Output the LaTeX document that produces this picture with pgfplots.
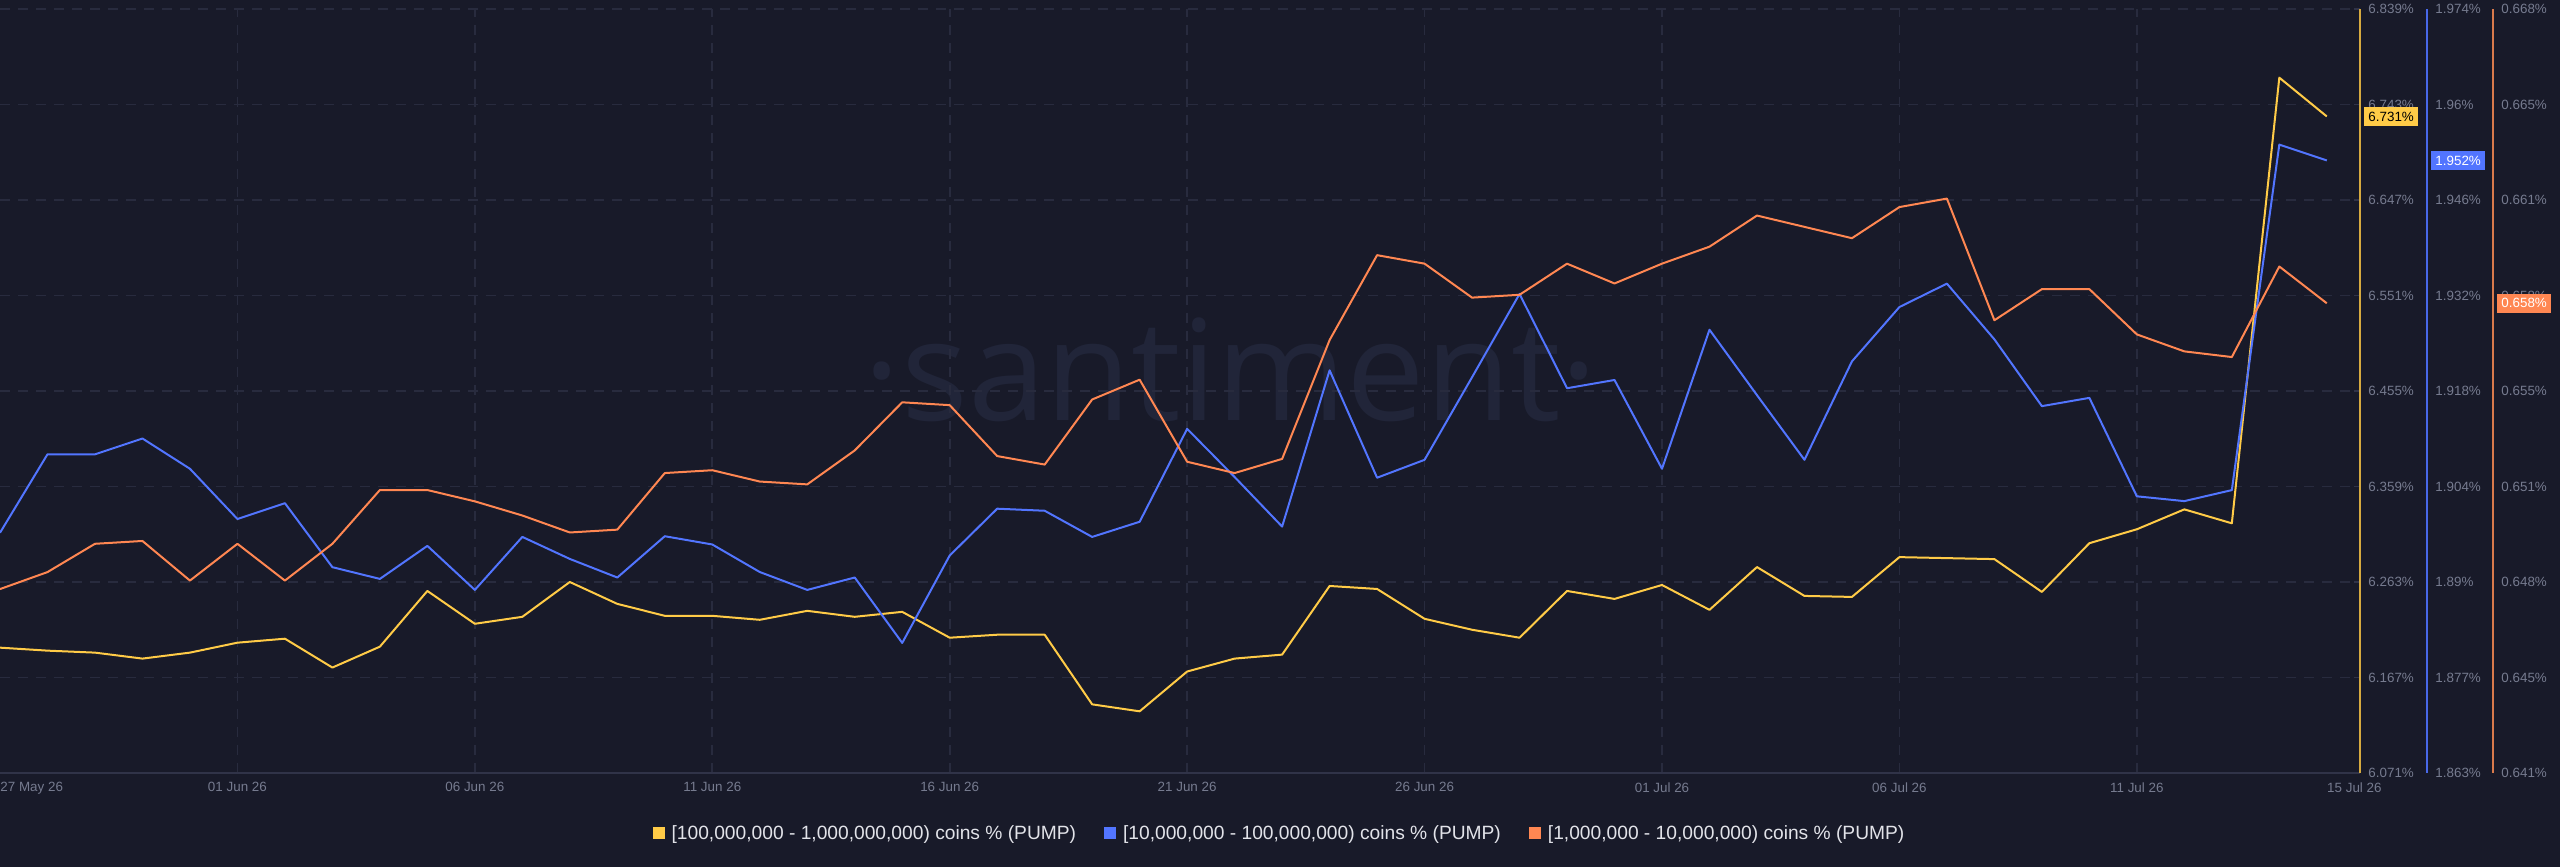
\documentclass[border=0pt]{standalone}
\usepackage{pgfplots}
\usepackage{pgfplotstable}
\pgfplotsset{compat=1.18}
\usepackage{fontspec}
\setmainfont{Liberation Sans}
\newfontfamily\wmfont{Open Sans}

\definecolor{bg}{RGB}{24,26,41}
\definecolor{gridc}{RGB}{40,43,62}
\definecolor{axisc}{RGB}{48,51,72}
\definecolor{tickc}{RGB}{118,123,143}
\definecolor{legc}{RGB}{226,227,233}
\definecolor{cyel}{RGB}{255,203,71}
\definecolor{cblu}{RGB}{82,117,255}
\definecolor{cora}{RGB}{255,135,82}
\definecolor{ayel}{RGB}{214,170,64}
\definecolor{ablu}{RGB}{72,104,232}
\definecolor{aora}{RGB}{216,122,76}
\definecolor{wm}{RGB}{33,37,57}

% daily holder share per balance band, day 0 = 27 May 26
\pgfplotstableread{
day yel blu ora
0 6.197 1.8979 0.6475
1 6.194 1.9093 0.6481
2 6.192 1.9093 0.6491
3 6.186 1.9116 0.6492
4 6.192 1.9072 0.6478
5 6.202 1.8999 0.6491
6 6.206 1.9022 0.6478
7 6.177 1.8929 0.6491
8 6.198 1.8912 0.6510
9 6.254 1.8960 0.6510
10 6.221 1.8896 0.6506
11 6.228 1.8973 0.6501
12 6.263 1.8941 0.6495
13 6.241 1.8914 0.6496
14 6.229 1.8974 0.6516
15 6.229 1.8962 0.6517
16 6.225 1.8922 0.6513
17 6.234 1.8896 0.6512
18 6.228 1.8914 0.6524
19 6.233 1.8819 0.6541
20 6.207 1.8946 0.6540
21 6.210 1.9014 0.6522
22 6.210 1.9011 0.6519
23 6.140 1.8973 0.6542
24 6.133 1.8995 0.6549
25 6.173 1.9130 0.6520
26 6.186 1.9060 0.6516
27 6.190 1.8988 0.6521
28 6.259 1.9215 0.6563
29 6.256 1.9059 0.6593
30 6.226 1.9085 0.6590
31 6.215 1.9205 0.6578
32 6.207 1.9326 0.6579
33 6.254 1.9189 0.6590
34 6.246 1.9201 0.6583
35 6.260 1.9072 0.6590
36 6.235 1.9274 0.6596
37 6.278 1.9179 0.6607
38 6.249 1.9085 0.6603
39 6.248 1.9228 0.6599
40 6.288 1.9307 0.6610
41 6.287 1.9341 0.6613
42 6.286 1.9260 0.6570
43 6.253 1.9163 0.6581
44 6.302 1.9175 0.6581
45 6.316 1.9032 0.6565
46 6.336 1.9025 0.6559
47 6.322 1.9041 0.6557
48 6.770 1.9543 0.6589
49 6.731 1.9520 0.6576
}\bands

\def\xmx{49.70}
\newcommand{\tickfont}{\fontsize{6.7}{8}\selectfont}

\pgfplotsset{
  base/.style={
    scale only axis, width=1180pt, height=382pt,
    at={(0pt,0pt)}, anchor=south west,
    xmin=0, xmax=\xmx, clip=false,
    axis background/.style={fill=none},
    yticklabel style={font=\tickfont, text=tickc, anchor=west, inner sep=0pt},
  },
  series/.style={line width=1pt, line join=round},
}

\begin{document}
\begin{tikzpicture}[x=1pt,y=1pt]
\fill[bg] (0,-47) rectangle (1280,386.5);
\node[font=\wmfont\fontsize{70}{70}\selectfont, text=wm, anchor=base] at (615.5,176) {·santiment·};

% 100M - 1B band, left-most right axis
\begin{axis}[base,
  ymin=6.071, ymax=6.839,
  axis x line*=bottom, axis y line*=right,
  x axis line style={draw=axisc, line width=1pt, -},
  y axis line style={draw=ayel, line width=1pt, -},
  xtick={5,10,...,45},
  xticklabels={01 Jun 26,06 Jun 26,11 Jun 26,16 Jun 26,21 Jun 26,26 Jun 26,01 Jul 26,06 Jul 26,11 Jul 26},
  extra x ticks={0,49},
  extra x tick labels={27 May 26,15 Jul 26},
  extra x tick style={grid=none, major tick length=0pt, xticklabel style={anchor=north west}},
  xtick style={draw=none},
  xticklabel style={font=\tickfont, text=tickc, inner sep=0pt, anchor=north, yshift=-4.5pt},
  ytick={6.071,6.167,6.263,6.359,6.455,6.551,6.647,6.743,6.839},
  yticklabels={6.071\%,6.167\%,6.263\%,6.359\%,6.455\%,6.551\%,6.647\%,6.743\%,6.839\%},
  yticklabel style={xshift=4pt},
  tick align=inside, major tick length=3pt,
  ytick style={draw=axisc, line width=0.8pt},
  xmajorgrids, ymajorgrids,
  major grid style={draw=gridc, line width=0.8pt, dash pattern=on 5pt off 4pt},
]
\addplot[series, cyel] table[x=day, y=yel] {\bands};
\node[fill=cyel, text=black, font=\tickfont, anchor=west, inner xsep=2pt, inner ysep=2.5pt, xshift=2pt]
  at (axis cs:\xmx,6.731) {6.731\%};
\end{axis}

% 10M - 100M band
\begin{axis}[base,
  ymin=1.863, ymax=1.974,
  hide x axis, axis y line*=right,
  y axis line style={draw=ablu, line width=1pt, xshift=33.5pt, -},
  ytick={1.863,1.876875,1.89075,1.904625,1.9185,1.932375,1.94625,1.960125,1.974},
  yticklabels={1.863\%,1.877\%,1.89\%,1.904\%,1.918\%,1.932\%,1.946\%,1.96\%,1.974\%},
  yticklabel style={xshift=37.5pt},
  major tick length=0pt, ytick style={draw=none},
]
\addplot[series, cblu] table[x=day, y=blu] {\bands};
\node[fill=cblu, text=white, font=\tickfont, anchor=west, inner xsep=2pt, inner ysep=2.5pt, xshift=35.5pt]
  at (axis cs:\xmx,1.952) {1.952\%};
\end{axis}

% 1M - 10M band
\begin{axis}[base,
  ymin=0.641, ymax=0.668,
  hide x axis, axis y line*=right,
  y axis line style={draw=aora, line width=1pt, xshift=66.5pt, -},
  ytick={0.641,0.644375,0.64775,0.651125,0.6545,0.657875,0.66125,0.664625,0.668},
  yticklabels={0.641\%,0.645\%,0.648\%,0.651\%,0.655\%,0.658\%,0.661\%,0.665\%,0.668\%},
  yticklabel style={xshift=70.5pt},
  major tick length=0pt, ytick style={draw=none},
]
\addplot[series, cora] table[x=day, y=ora] {\bands};
\node[fill=cora, text=white, font=\tickfont, anchor=west, inner xsep=2pt, inner ysep=2.5pt, xshift=68.5pt]
  at (axis cs:\xmx,0.6576) {0.658\%};
\end{axis}

% legend
\node[anchor=center, inner sep=0pt, text=legc, font=\fontsize{9.6}{11}\selectfont] at (639.25,-31) {%
  {\color{cyel}\raisebox{0.3pt}{\rule{6pt}{6pt}}}\hspace{3.5pt}[100,000,000 - 1,000,000,000) coins \% (PUMP)\hspace{14pt}%
  {\color{cblu}\raisebox{0.3pt}{\rule{6pt}{6pt}}}\hspace{3.5pt}[10,000,000 - 100,000,000) coins \% (PUMP)\hspace{14pt}%
  {\color{cora}\raisebox{0.3pt}{\rule{6pt}{6pt}}}\hspace{3.5pt}[1,000,000 - 10,000,000) coins \% (PUMP)};

\pgfresetboundingbox
\useasboundingbox (0,-47) rectangle (1280,386.5);
\end{tikzpicture}
\end{document}
